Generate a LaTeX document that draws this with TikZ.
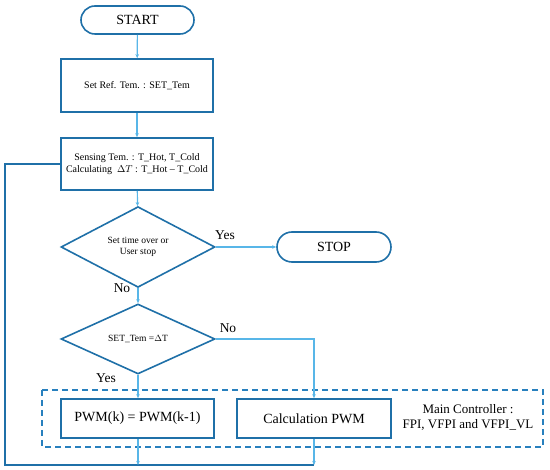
\documentclass[tikz,border=0pt]{standalone}
\usepackage{fontspec}
\setmainfont{Liberation Serif}
\usetikzlibrary{shapes.geometric,arrows.meta}
\definecolor{boxblue}{RGB}{31,112,168}
\definecolor{arrowblue}{RGB}{88,182,232}
\definecolor{dashblue}{RGB}{40,128,190}
\begin{document}
\begin{tikzpicture}[x=1pt,y=-1pt,
  box/.style={draw=boxblue,line width=1.6pt,rectangle,inner sep=0pt,align=center},
  term/.style={draw=boxblue,line width=1.6pt,rectangle,rounded corners=14pt,inner sep=0pt,font=\fontsize{14}{16}\selectfont},
  decis/.style={draw=boxblue,line width=1.6pt,diamond,inner sep=0pt,align=center,font=\fontsize{9.5}{11.5}\selectfont},
  conn/.style={draw=arrowblue,line width=1.2pt,-{Stealth[length=4pt,width=3.5pt]}},
  loopline/.style={draw=boxblue,line width=1.6pt},
  lbl/.style={font=\fontsize{13.5}{15}\selectfont,inner sep=0pt}]
\useasboundingbox (0,0) rectangle (550,470);
\node[term,minimum width=113pt,minimum height=28pt] (start) at (137.5,20) {START};
\node[box,minimum width=152pt,minimum height=53pt,font=\fontsize{10}{12}\selectfont] (setref) at (137,85.5) {Set Ref. Tem. : SET\_Tem};
\node[box,minimum width=152pt,minimum height=52pt,font=\fontsize{10}{12.5}\selectfont] (sensing) at (137,164) {Sensing Tem. : T\_Hot, T\_Cold\\Calculating\ \ $\Delta T$ : T\_Hot -- T\_Cold};
\node[decis,minimum width=154pt,minimum height=65pt] (d1) at (138,247) {Set time over or\\User stop};
\node[term,minimum width=114pt,minimum height=30pt,rounded corners=15pt] (stop) at (334,247) {STOP};
\node[decis,minimum width=154pt,minimum height=70pt] (d2) at (138,339) {SET\_Tem =$\Delta$T};
\node[box,minimum width=153pt,minimum height=39pt,font=\fontsize{14}{16}\selectfont] (pwm) at (137.5,418.5) {PWM(k) = PWM(k-1)};
\node[box,minimum width=154pt,minimum height=39pt,font=\fontsize{14}{16}\selectfont] (calc) at (314,418.5) {Calculation PWM};
\draw[draw=dashblue,line width=1.6pt,dash pattern=on 6pt off 4pt] (42,390) rectangle (543,447);
\node[font=\fontsize{13}{15}\selectfont,align=center] (mc) at (468,417) {Main Controller :\\FPI, VFPI and VFPI\_VL};
\node[lbl] (yes1) at (225,235) {Yes};
\node[lbl] (no1) at (122,288) {No};
\node[lbl] (no2) at (228,328) {No};
\node[lbl] (yes2) at (106,378) {Yes};
\coordinate (b1) at (138,465);
\coordinate (b2) at (314,465);
\coordinate (lc) at (5,465);
\coordinate (lt) at (5,164);
\draw[conn] (start) -- (setref);
\draw[conn] (setref) -- (sensing);
\draw[conn] (sensing) -- (d1);
\draw[conn] (d1.east) -- (stop.west);
\draw[conn] (d1.south) -- (d2.north);
\draw[conn] (d2.south) -- (d2.south |- pwm.north);
\draw[conn] (d2.east) -| (calc.north);
\draw[loopline] (b2) -- (lc) -- (lt) -- (sensing.west);
\draw[conn] (pwm.south -| b1) -- (b1);
\draw[conn] (calc.south) -- (b2);
\end{tikzpicture}
\end{document}
